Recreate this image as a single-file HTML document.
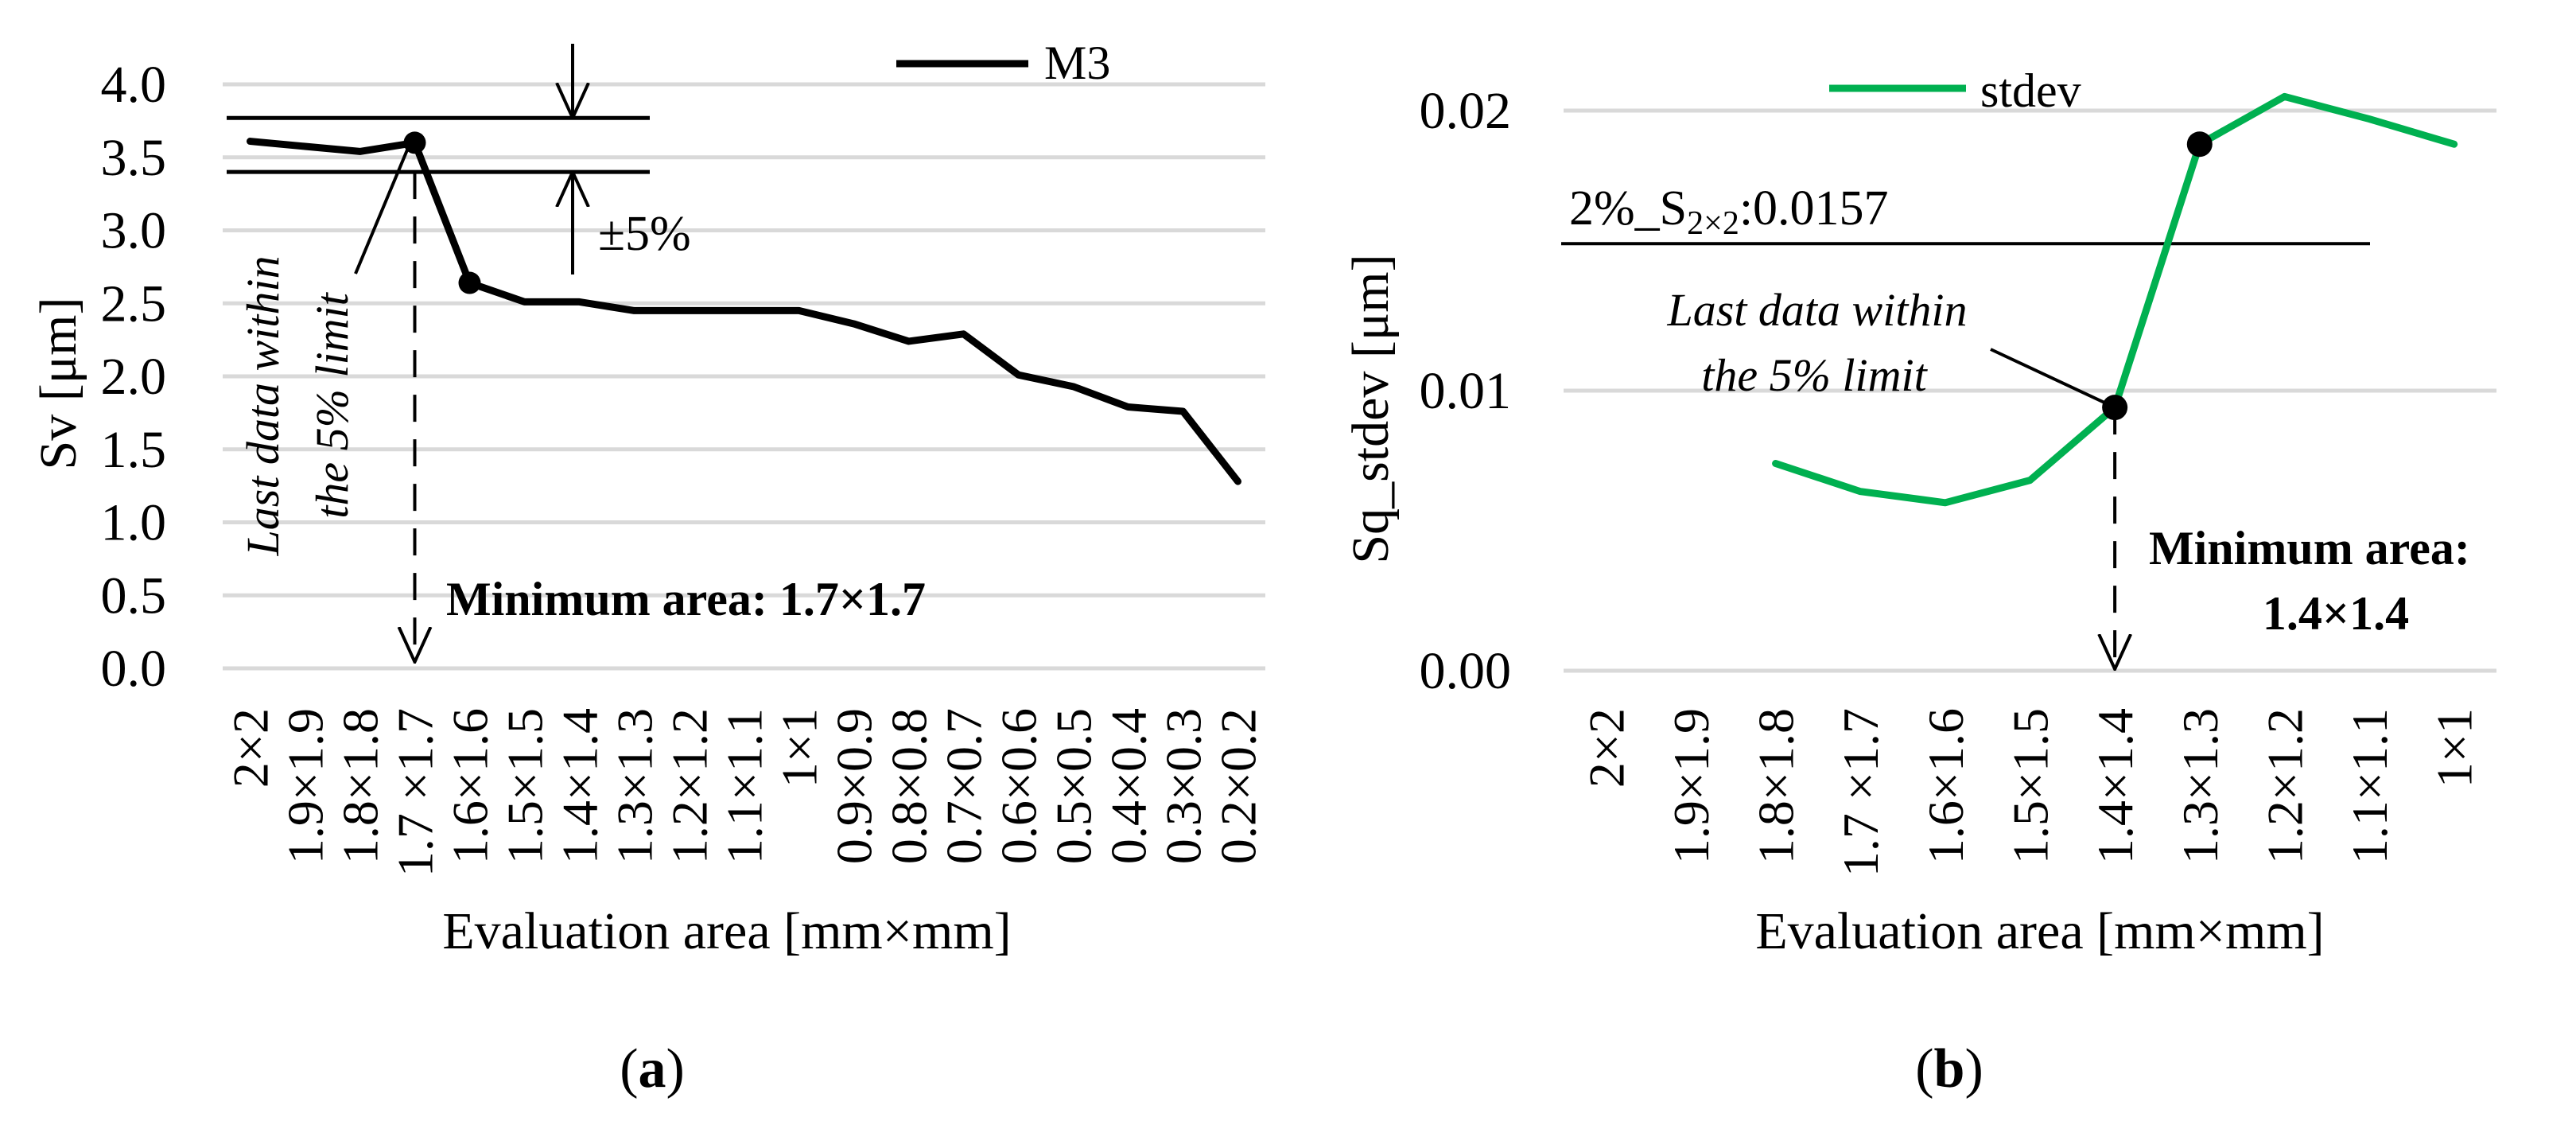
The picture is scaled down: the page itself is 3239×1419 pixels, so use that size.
<!DOCTYPE html>
<html><head><meta charset="utf-8"><style>
html,body{margin:0;padding:0;background:#fff}
svg{display:block}
text{font-family:"Liberation Serif",serif;fill:#000}
</style></head><body>
<svg id="fig" width="3239" height="1419" viewBox="0 0 3239 1419" xmlns="http://www.w3.org/2000/svg">
<defs>
<marker id="ah" viewBox="0 0 46 44" refX="44" refY="22" markerWidth="46" markerHeight="44" markerUnits="userSpaceOnUse" orient="auto"><path d="M0,2 L44,22 L0,42" fill="none" stroke="#000" stroke-width="4"/></marker>
</defs>
<g id="chartA"></g>
<g id="chartB"></g>
</svg>
<script>
const catsA = ["2×2","1.9×1.9","1.8×1.8","1.7 ×1.7","1.6×1.6","1.5×1.5","1.4×1.4","1.3×1.3","1.2×1.2","1.1×1.1","1×1","0.9×0.9","0.8×0.8","0.7×0.7","0.6×0.6","0.5×0.5","0.4×0.4","0.3×0.3","0.2×0.2"];
const valsA = [3.61,3.575,3.54,3.60,2.64,2.51,2.51,2.45,2.45,2.45,2.45,2.36,2.24,2.29,2.01,1.93,1.79,1.76,1.28];
const ticksA = [0,0.5,1,1.5,2,2.5,3,3.5,4];
const tickLabelsA = ["0.0","0.5","1.0","1.5","2.0","2.5","3.0","3.5","4.0"];
const limitsA = [3.77,3.40];
const markIdxA = [3,4];

const catsB = ["2×2","1.9×1.9","1.8×1.8","1.7 ×1.7","1.6×1.6","1.5×1.5","1.4×1.4","1.3×1.3","1.2×1.2","1.1×1.1","1×1"];
const valsB = [null,null,0.0074,0.0064,0.0060,0.0068,0.0094,0.0188,0.0205,0.0197,0.0188];
const ticksB = [0,0.01,0.02];
const tickLabelsB = ["0.00","0.01","0.02"];
const thresholdB = [0.01525];
const markIdxB = [6,7];

const NS="http://www.w3.org/2000/svg";
function mk(parent,tag,attrs,txt){const e=document.createElementNS(NS,tag);for(const k in attrs)e.setAttribute(k,attrs[k]);if(txt!==undefined)e.textContent=txt;parent.appendChild(e);return e;}

// ---- Chart A ----
const gA=document.getElementById('chartA');
const axA={x0:280,x1:1591,y0:840,y1:106,min:0,max:4};
const xA=i=>axA.x0+(i+0.5)*(axA.x1-axA.x0)/catsA.length;
const yA=v=>axA.y0-(v-axA.min)/(axA.max-axA.min)*(axA.y0-axA.y1);
ticksA.forEach((t,i)=>{
  const l=mk(gA,'line',{x1:axA.x0,x2:axA.x1,y1:yA(t),y2:yA(t),stroke:'#d9d9d9','stroke-width':5});
  
  
  const tx=mk(gA,'text',{x:209,y:yA(t)+22,'text-anchor':'end','font-size':66},tickLabelsA[i]);
  
  
});
limitsA.forEach(v=>{
  const l=mk(gA,'line',{x1:285,x2:817,y1:yA(v),y2:yA(v),stroke:'#000','stroke-width':5});
  
  
});
let dA=valsA.map((v,i)=>(i?'L':'M')+xA(i)+','+yA(v)).join(' ');
const pA=mk(gA,'path',{d:dA,fill:'none',stroke:'#000','stroke-width':9,'stroke-linejoin':'round','stroke-linecap':'round'});


markIdxA.forEach(i=>{
  const c=mk(gA,'circle',{cx:xA(i),cy:yA(valsA[i]),r:14,fill:'#000'});
  
  
});
let e;
e=mk(gA,'line',{x1:720,x2:720,y1:55,y2:yA(limitsA[0]),stroke:'#000','stroke-width':4,'marker-end':'url(#ah)'});


e=mk(gA,'line',{x1:720,x2:720,y1:345,y2:yA(limitsA[1]),stroke:'#000','stroke-width':4,'marker-end':'url(#ah)'});


e=mk(gA,'text',{x:752,y:314,'font-size':62},'±5%');


e=mk(gA,'line',{x1:xA(3),x2:xA(3),y1:yA(limitsA[1]),y2:832,stroke:'#000','stroke-width':4,'stroke-dasharray':'34,22','marker-end':'url(#ah)'});


e=mk(gA,'line',{x1:447,y1:344,x2:xA(3)-4,y2:yA(valsA[3])-4,stroke:'#000','stroke-width':4});


e=mk(gA,'text',{transform:'translate(350,510) rotate(-90)','text-anchor':'middle','font-size':58,'font-style':'italic'},'Last data within');


e=mk(gA,'text',{transform:'translate(437,510) rotate(-90)','text-anchor':'middle','font-size':58,'font-style':'italic'},'the 5% limit');


e=mk(gA,'text',{x:561,y:773,'font-size':60,'font-weight':'bold'},'Minimum  area: 1.7×1.7');


e=mk(gA,'line',{x1:1127,x2:1293,y1:80,y2:80,stroke:'#000','stroke-width':9});


e=mk(gA,'text',{x:1313,y:99,'font-size':60},'M3');


catsA.forEach((c,i)=>{
  const t=mk(gA,'text',{transform:'translate('+(xA(i)+22)+',890) rotate(-90)','text-anchor':'end','font-size':64},c);
  
  
});
e=mk(gA,'text',{transform:'translate(95,482) rotate(-90)','text-anchor':'middle','font-size':66},'Sv [μm]');


e=mk(gA,'text',{x:914,y:1192,'text-anchor':'middle','font-size':66},'Evaluation area [mm×mm]');


e=mk(gA,'text',{x:820,y:1366,'text-anchor':'middle','font-size':70},'');


e.innerHTML='(<tspan font-weight="bold">a</tspan>)';

// ---- Chart B ----
const gB=document.getElementById('chartB');
const axB={x0:1966,x1:3139,y0:843,y1:139,min:0,max:0.02};
const xB=i=>axB.x0+(i+0.5)*(axB.x1-axB.x0)/catsB.length;
const yB=v=>axB.y0-(v-axB.min)/(axB.max-axB.min)*(axB.y0-axB.y1);
ticksB.forEach((t,i)=>{
  const l=mk(gB,'line',{x1:axB.x0,x2:axB.x1,y1:yB(t),y2:yB(t),stroke:'#d9d9d9','stroke-width':5});
  
  
  const tx=mk(gB,'text',{x:1900,y:yB(t)+22,'text-anchor':'end','font-size':66},tickLabelsB[i]);
  
  
});
thresholdB.forEach(v=>{
  const l=mk(gB,'line',{x1:1963,x2:2980,y1:yB(v),y2:yB(v),stroke:'#000','stroke-width':4});
  
  
});
e=mk(gB,'text',{x:1973,y:282,'font-size':62},'');


e.innerHTML='2%_S<tspan font-size="42" dy="12">2×2</tspan><tspan dy="-12">:0.0157</tspan>';
let dB='',started=false;
valsB.forEach((v,i)=>{if(v===null)return;dB+=(started?'L':'M')+xB(i)+','+yB(v)+' ';started=true;});
const pB=mk(gB,'path',{d:dB,fill:'none',stroke:'#00b050','stroke-width':9,'stroke-linejoin':'round','stroke-linecap':'round'});


markIdxB.forEach(i=>{
  const c=mk(gB,'circle',{cx:xB(i),cy:yB(valsB[i]),r:16,fill:'#000'});
  
  
});
e=mk(gB,'line',{x1:xB(6),x2:xB(6),y1:yB(valsB[6]),y2:841,stroke:'#000','stroke-width':4,'stroke-dasharray':'34,22','marker-end':'url(#ah)'});


e=mk(gB,'line',{x1:2503,y1:439,x2:xB(6),y2:yB(valsB[6]),stroke:'#000','stroke-width':4});


e=mk(gB,'text',{x:2285,y:409,'text-anchor':'middle','font-size':58,'font-style':'italic'},'Last data within');


e=mk(gB,'text',{x:2281,y:491,'text-anchor':'middle','font-size':58,'font-style':'italic'},'the 5% limit');


e=mk(gB,'text',{x:2702,y:709,'font-size':60,'font-weight':'bold'},'Minimum  area:');


e=mk(gB,'text',{x:2937,y:791,'text-anchor':'middle','font-size':60,'font-weight':'bold'},'1.4×1.4');


e=mk(gB,'line',{x1:2300,x2:2472,y1:111,y2:111,stroke:'#00b050','stroke-width':9});


e=mk(gB,'text',{x:2490,y:134,'font-size':60},'stdev');


catsB.forEach((c,i)=>{
  const t=mk(gB,'text',{transform:'translate('+(xB(i)+22)+',890) rotate(-90)','text-anchor':'end','font-size':64},c);
  
  
});
e=mk(gB,'text',{transform:'translate(1745,514) rotate(-90)','text-anchor':'middle','font-size':66},'Sq_stdev [μm]');


e=mk(gB,'text',{x:2565,y:1192,'text-anchor':'middle','font-size':66},'Evaluation area [mm×mm]');


e=mk(gB,'text',{x:2451,y:1366,'text-anchor':'middle','font-size':70},'');


e.innerHTML='(<tspan font-weight="bold">b</tspan>)';
</script>
</body></html>
